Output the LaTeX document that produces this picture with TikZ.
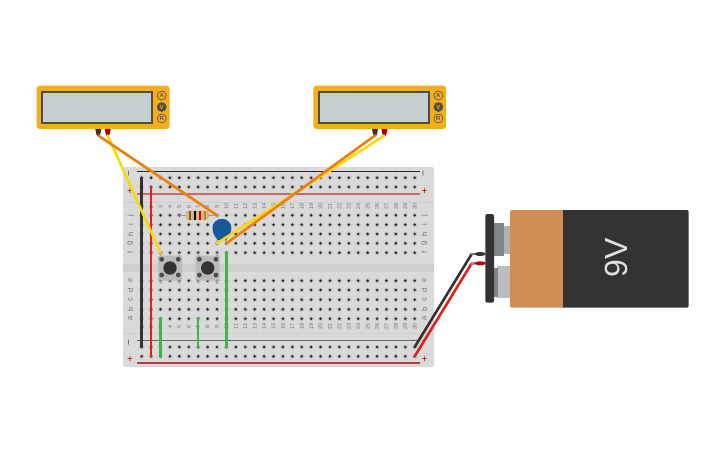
\documentclass[tikz,border=0pt]{standalone}
\usepackage{fontspec}
\setmainfont{Liberation Sans}
\definecolor{board}{HTML}{DADADA}
\definecolor{channel}{HTML}{CECECE}
\definecolor{edgeline}{HTML}{CFCFCF}
\definecolor{hole}{HTML}{2E2E2E}
\definecolor{halo}{HTML}{C4C4C4}
\definecolor{railred}{HTML}{CB6A6A}
\definecolor{botred}{HTML}{B83A3A}
\definecolor{wblack}{HTML}{333333}
\definecolor{wred}{HTML}{E3201F}
\definecolor{wgreen}{HTML}{3FB54A}
\definecolor{worange}{HTML}{EE7F0E}
\definecolor{wyellow}{HTML}{F7D910}
\definecolor{meter}{HTML}{F4AE1A}
\definecolor{screen}{HTML}{C5CFD1}
\definecolor{copper}{HTML}{CF8E52}
\definecolor{capblue}{HTML}{16589A}
\definecolor{resbody}{HTML}{D9B57F}
\tikzset{
  wire/.style={line width=2.6pt,line cap=round},
  lab/.style={font=\fontsize{5.5}{6}\selectfont,text=black!55,rotate=90,inner sep=0pt},
  letter/.style={lab,font=\fontsize{7.5}{8}\selectfont},
  sign/.style={font=\fontsize{10}{10}\selectfont,inner sep=0pt},
  pin/.style={line width=1.3pt,draw=black!35},
  dial/.style={circle,draw=black!65,line width=.7pt,minimum size=9pt,inner sep=0pt,
    font=\fontsize{6}{6}\selectfont\bfseries,text=black!65},
  dialon/.style={dial,fill=black!70,text=meter},
}
\newcommand{\multimeter}[2]{% name, x offset
  \begin{scope}[xshift=#2 pt]
    \fill[meter,rounded corners=3pt] (36.7,85.7) rectangle (169.5,129);
    \draw[black!70,fill=screen,line width=2pt] (42,92) rectangle (152,123);
    \node[dial] (#1a) at (161.7,95.5) {A};
    \node[dialon] (#1v) at (161.7,107) {V};
    \node[dial] (#1r) at (161.7,118.5) {R};
    \fill[wblack] (95.3,129) -- (101.3,129) -- (100.3,134) -- (99.3,136) -- (97.3,136) -- (96.3,134) -- cycle;
    \fill[red!65!black] (104.7,129) -- (110.7,129) -- (109.7,134) -- (108.7,136) -- (106.7,136) -- (105.7,134) -- cycle;
    \coordinate (#1neg) at (98.3,135.5);
    \coordinate (#1pos) at (107.7,135.5);
  \end{scope}
}
\newcommand{\pushbutton}[3]{% name, x, y
  \begin{scope}[shift={(#2,#3)}]
    \foreach \sx in {-9.4,9.4} \foreach \sy in {-15.5,12.5}
      \draw[pin] (\sx,\sy) -- (\sx,\sy+3);
    \fill[black!27,rounded corners=1pt] (-12,-12.5) rectangle (12,12.5);
    \foreach \sx in {-8.3,8.3} \foreach \sy in {-8.7,7}
      \fill[black!70] (\sx,\sy) circle (2.4);
    \node[circle,fill=black!80,minimum size=13.4pt,inner sep=0pt] (#1) at (0,0) {};
  \end{scope}
}
\begin{document}
\begin{tikzpicture}[x=1pt,y=-1pt]
\useasboundingbox (0,0) rectangle (725,453);

% breadboard
\fill[board,rounded corners=2pt] (123,167) rectangle (434,367);
\draw[edgeline,line width=.8pt] (123,202.5) -- (434,202.5) (123,333.5) -- (434,333.5);
\fill[channel] (123,263.5) rectangle (434,272);
\draw[black!85,line width=1.1pt] (137,171.5) -- (420,171.5);
\draw[railred,line width=1.7pt] (137,193.7) -- (420,193.7);
\draw[black!60,line width=1.1pt] (137,340.5) -- (420,340.5);
\draw[botred,line width=1.1pt] (137,363) -- (420,363);

% holes and the numbers
\foreach \c in {1,...,30} {
  \pgfmathsetmacro{\hx}{141.7+9.414*(\c-1)}
  \foreach \r/\ry in {rt/177.7,pt/187,j/215.3,i/224.7,h/234,g/243.3,f/252.7,e/280.7,d/290,c/299.7,b/309.3,a/318.7,rb/347,pb/356.3} {
    \fill[halo] (\hx,\ry) circle (2.5);
    \fill[hole] (\hx,\ry) circle (1.45);
    \coordinate (h\c\r) at (\hx,\ry);
  }
  \node[lab] (nt\c) at (\hx,206.7) {\c};
  \node[lab] (nb\c) at (\hx,326.7) {\c};
}
\foreach \r/\ry in {j/215.3,i/224.7,h/234,g/243.3,f/252.7,e/280.7,d/290,c/299.7,b/309.3,a/318.7} {
  \node[letter] (ll\r) at (130.5,\ry) {\r};
  \node[letter] (lr\r) at (424.5,\ry) {\r};
}
\node[sign,text=black!70,rotate=90] (m1) at (130,174) {−};
\node[sign,text=black!70,rotate=90] (m2) at (424.5,174) {−};
\node[sign,text=black!70,rotate=90] (m3) at (130,343) {−};
\node[sign,text=black!70,rotate=90] (m4) at (424.5,343) {−};
\node[sign,text=red!75!black] (p1) at (130,191.5) {+};
\node[sign,text=red!75!black] (p2) at (424.5,191.5) {+};
\node[sign,text=red!75!black] (p3) at (130,359.5) {+};
\node[sign,text=red!75!black] (p4) at (424.5,359.5) {+};

% jumpers on the board
\draw[wire,wblack] (h1rt) -- (h1rb);
\draw[wire,wred] (h2pt) -- (h2pb);
\draw[wire,wgreen] (h3a) -- (h3pb);
\draw[wire,wgreen] (h7a) -- (h7rb);
\draw[wire,wgreen] (h10f) -- (h10rb);

% push buttons
\pushbutton{swa}{170}{268}
\pushbutton{swb}{207.7}{268}

% resistor
\draw[line width=1.3pt,black!40] (h5j) -- (h9j);
\fill[resbody,rounded corners=3pt] (185.5,210.5) rectangle (208.5,220);
\fill[brown!70!black] (189,210.7) rectangle (191.4,219.8);
\fill[black] (193.6,210.7) rectangle (196,219.8);
\fill[red!90!black] (198.6,210.7) rectangle (201,219.8);
\fill[brown!60!yellow!80!black] (204,210.7) rectangle (205.8,219.8);

% capacitor
\draw[line width=1.4pt,black!35] (h9g) -- (218.2,236);
\draw[line width=1.4pt,black!35] (h10g) -- (225.2,236);
\fill[capblue] (217.6,240) .. controls (215.5,237.5) and (212.4,233) .. (212.4,228)
  .. controls (212.4,222.5) and (217,218.8) .. (221.9,218.8)
  .. controls (226.8,218.8) and (231.4,222.5) .. (231.4,228)
  .. controls (231.4,233) and (228.5,237.5) .. (226.2,240) -- cycle;

% meters
\multimeter{ma}{0}
\multimeter{mb}{276.7}

% battery
\begin{scope}
  \clip (500,200) rectangle (563,320);
  \fill[copper,rounded corners=2pt] (510,210) rectangle (688.7,307.7);
\end{scope}
\begin{scope}
  \clip (563,200) rectangle (700,320);
  \fill[wblack,rounded corners=2pt] (510,210) rectangle (688.7,307.7);
\end{scope}
\node[rotate=90,text=black!12,font=\fontsize{32}{32}\selectfont,inner sep=0pt] (nine) at (616,258) {9V};
\fill[black!30] (503,225.7) rectangle (510,254);
\fill[black!48] (494,223.3) rectangle (504,256);
\fill[black!26] (497,265.7) rectangle (510,298);
\fill[black!48] (494,267.7) rectangle (498,296.7);
\fill[wblack,rounded corners=2pt] (485.3,214) rectangle (494,302.7);
\coordinate (bneg) at (471.7,254);
\coordinate (bpos) at (471.7,263.3);
\draw[wire,wblack] (h30rb) -- (bneg);
\draw[wire,wred] (h30pb) -- (bpos);
\fill[black!50] (471,252.6) rectangle (475,255.4);
\fill[wblack] (474,254) .. controls (477,251.5) and (481,251.5) .. (485.3,253)
  -- (485.3,255) .. controls (481,256.5) and (477,256.5) .. (474,254) -- cycle;
\fill[black!40] (471,261.9) rectangle (475,264.7);
\fill[red!75!black] (474,263.3) .. controls (477,260.8) and (481,260.8) .. (485.3,262.3)
  -- (485.3,264.3) .. controls (481,265.8) and (477,265.8) .. (474,263.3) -- cycle;

% meter leads
\draw[wire,wyellow] (mapos) -- (h3f);
\draw[wire,worange] (maneg) -- (h9j);
\draw[wire,wyellow] (mbpos) -- (h9g);
\draw[wire,worange] (mbneg) -- (h10g);
\end{tikzpicture}
\end{document}
